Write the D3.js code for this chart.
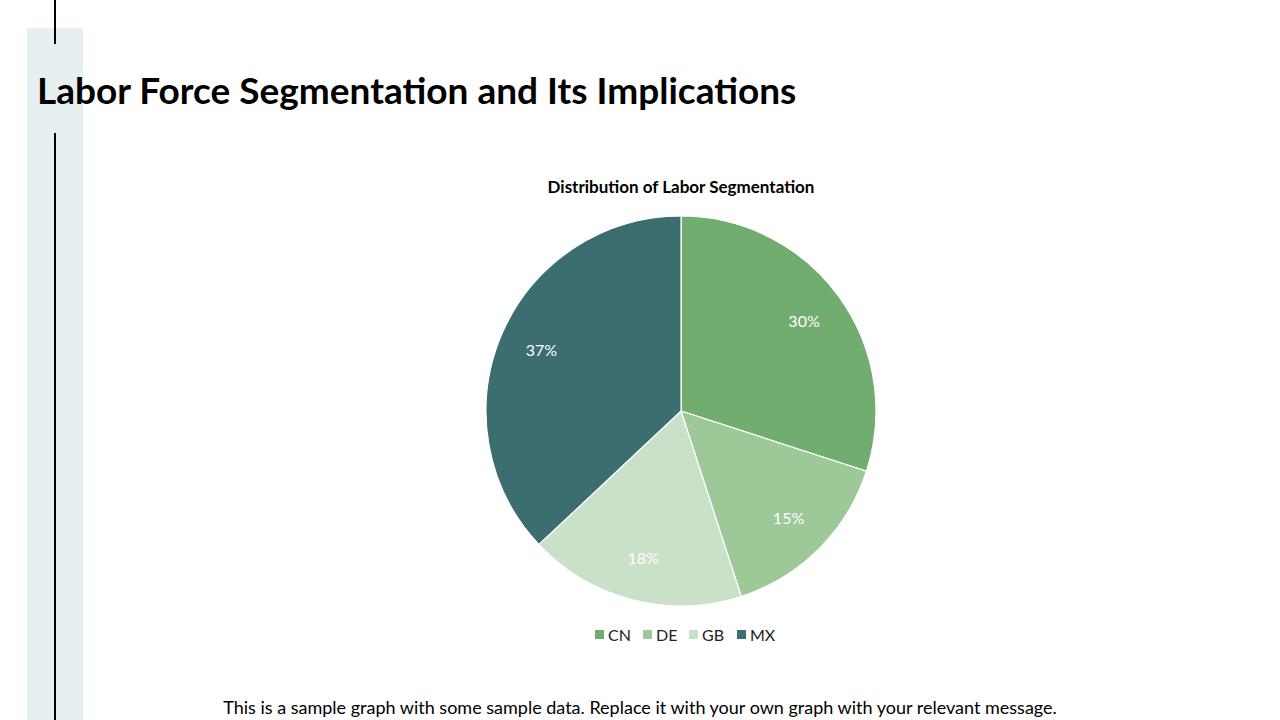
<!DOCTYPE html>
<html><head><meta charset="utf-8">
<script src="https://cdn.jsdelivr.net/npm/d3@7"></script>
<style>body{margin:0;background:#fff}svg{display:block}</style>
</head><body>
<svg id="chart" width="1280" height="720"></svg>
<script>
const categories = ["CN", "DE", "GB", "MX"];
const shares = [30, 15, 18, 37];
const colors = ["#70ad6e", "#9dc897", "#c9e1c8", "#3d6e6f"];

const svg = d3.select("#chart");
const font = "Lato, 'Noto Sans', sans-serif";

// side decoration
svg.append("rect").attr("x", 27).attr("y", 28).attr("width", 56).attr("height", 692).attr("fill", "#e7f0f1");
svg.append("line").attr("x1", 55).attr("x2", 55).attr("y1", 0).attr("y2", 44).attr("stroke", "#000").attr("stroke-width", 2);
svg.append("line").attr("x1", 55).attr("x2", 55).attr("y1", 133).attr("y2", 720).attr("stroke", "#000").attr("stroke-width", 2);

svg.append("text").attr("x", 37).attr("y", 104).attr("font-family", font).attr("font-weight", "bold")
  .attr("font-size", 37).attr("fill", "#000").text("Labor Force Segmentation and Its Implications");

svg.append("text").attr("x", 681).attr("y", 193).attr("text-anchor", "middle").attr("font-family", font)
  .attr("font-weight", "bold").attr("font-size", 17).text("Distribution of Labor Segmentation");

const cx = 681, cy = 411, r = 195;
const color = d3.scaleOrdinal().domain(categories).range(colors);
const pie = d3.pie().sort(null).value(d => d.v);
const arcs = pie(categories.map((c, i) => ({ c, v: shares[i] })));
const arc = d3.arc().innerRadius(0).outerRadius(r);
const labelArc = d3.arc().innerRadius(r * 0.78).outerRadius(r * 0.78);

const g = svg.append("g").attr("transform", `translate(${cx},${cy})`);
g.selectAll("path").data(arcs).enter().append("path")
  .attr("d", arc).attr("fill", d => color(d.data.c)).attr("stroke", "#fff").attr("stroke-width", 1.2);
g.selectAll("text").data(arcs).enter().append("text")
  .attr("transform", d => `translate(${labelArc.centroid(d)})`)
  .attr("text-anchor", "middle").attr("dy", "0.35em").attr("font-family", font)
  .attr("font-size", 16).attr("fill", "#fff").text(d => d.data.v + "%");

// legend
const legend = svg.append("g").attr("transform", "translate(595,635)");
const xs = [0, 48, 94, 142];
categories.forEach((c, i) => {
  const item = legend.append("g").attr("transform", `translate(${xs[i]},0)`);
  item.append("rect").attr("x", 0).attr("y", -5).attr("width", 9).attr("height", 9).attr("fill", color(c));
  item.append("text").attr("x", 13).attr("y", 0).attr("dy", "0.35em").attr("font-family", font)
    .attr("font-size", 16).attr("fill", "#222").text(c);
});

svg.append("text").attr("x", 640).attr("y", 714).attr("text-anchor", "middle").attr("font-family", font)
  .attr("font-size", 18).attr("fill", "#000")
  .text("This is a sample graph with some sample data. Replace it with your own graph with your relevant message.");
</script>
</body></html>
